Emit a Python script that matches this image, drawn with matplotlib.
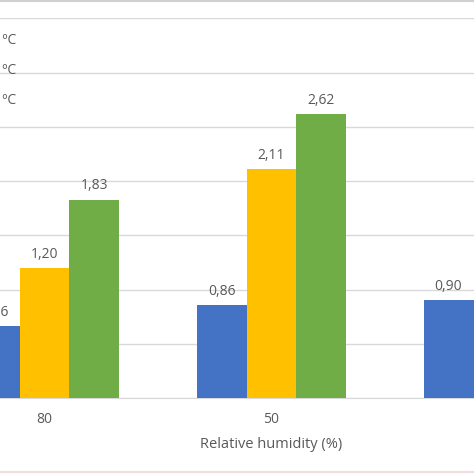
import numpy as np
import matplotlib
matplotlib.use("Agg")
import matplotlib.pyplot as plt

categories = ["80", "50", "30"]
series_names = ["T = 15 ºC", "T = 25 ºC", "T = 35 ºC"]
series_values = [
    [0.66, 0.86, 0.90],
    [1.20, 2.11, 2.45],
    [1.83, 2.62, 3.10],
]
colors = ["#4472C4", "#FFC000", "#70AD47"]
label_strings = [
    ["0,66", "0,86", "0,90"],
    ["1,20", "2,11", "2,45"],
    ["1,83", "2,62", "3,10"],
]

plt.rcParams["font.family"] = ["Open Sans", "DejaVu Sans"]
TEXT = "#595959"

W = H = 474
fig = plt.figure(figsize=(W / 100, H / 100), dpi=100)

# plot area is wider than the visible picture (the reference is a crop)
left_px, right_px, top_px, bottom_px = -69, 612, 18.5, 398
ax = fig.add_axes([left_px / W, (H - bottom_px) / H,
                   (right_px - left_px) / W, (bottom_px - top_px) / H])

x = np.arange(len(categories))
width = 0.22
for i, (vals, col, labs) in enumerate(zip(series_values, colors, label_strings)):
    bars = ax.bar(x + (i - 1) * width, vals, width, color=col, zorder=3)
    for b, lab in zip(bars, labs):
        ax.annotate(lab, (b.get_x() + b.get_width() / 2, b.get_height()),
                    xytext=(0, 4.5), textcoords="offset points",
                    ha="center", va="bottom", fontsize=10, color=TEXT)

ax.set_xlim(-0.5, len(categories) - 0.5)
ax.set_ylim(0, 3.5)
ax.set_yticks(np.arange(0, 3.51, 0.5))
ax.yaxis.grid(True, color="#D9D9D9", linewidth=1)
ax.set_yticklabels([])
ax.tick_params(axis="y", length=0)
ax.set_xticks(x, categories)
ax.tick_params(axis="x", length=0, pad=10, labelsize=10, labelcolor=TEXT)
for s in ["top", "right", "left"]:
    ax.spines[s].set_visible(False)
ax.spines["bottom"].set_color("#D9D9D9")
ax.set_xlabel("Relative humidity (%)", fontsize=10.5, color=TEXT, labelpad=7)

# legend entries (only their ends are visible in the crop)
for k, name in enumerate(series_names):
    fig.text(16 / W, 1 - (40 + 30 * k) / H, name, ha="right", va="center",
             fontsize=10, color=TEXT)

# chart border fragments at the top and bottom of the crop
fig.add_artist(plt.Line2D([0, 1], [1 - 0.8 / H, 1 - 0.8 / H], color="#D0D0D0", lw=1.5))
fig.add_artist(plt.Line2D([0, 1], [1 - 472 / H, 1 - 472 / H], color="#F4DCDC", lw=1.5))

fig.savefig("out.png", dpi=100)
